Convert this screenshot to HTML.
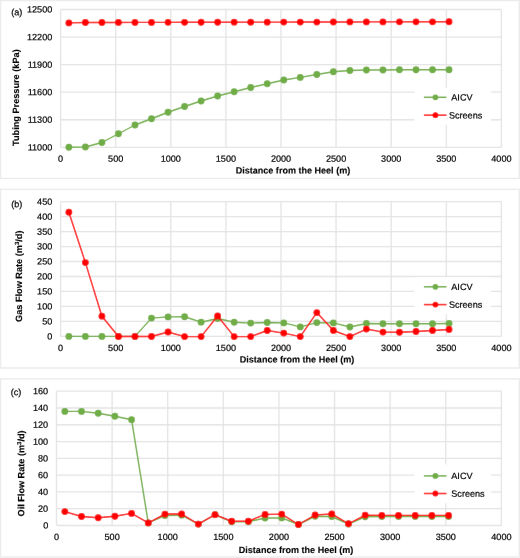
<!DOCTYPE html>
<html lang="en">
<head>
<meta charset="utf-8">
<title>Tubing pressure, gas and oil flow rate profiles</title>
<style>
html,body{margin:0;padding:0;background:#fff}
svg{display:block}
.t{font-family:"Liberation Sans",Arial,sans-serif;font-size:9.1px;fill:#000;stroke:#000;stroke-width:0.2px}
.b{font-family:"Liberation Sans",Arial,sans-serif;font-size:9.1px;font-weight:bold;fill:#000;stroke:#000;stroke-width:0.12px}
</style>
</head>
<body>
<svg width="520" height="558" viewBox="0 0 520 558">
<defs><filter id="soft" x="0" y="0" width="520" height="558" filterUnits="userSpaceOnUse"><feConvolveMatrix order="3" kernelMatrix="0.0028 0.0470 0.0028 0.0470 0.8008 0.0470 0.0028 0.0470 0.0028" divisor="1" edgeMode="none" preserveAlpha="false"/></filter><filter id="soft2" x="0" y="0" width="520" height="558" filterUnits="userSpaceOnUse"><feConvolveMatrix order="3" kernelMatrix="0.0003 0.0158 0.0003 0.0158 0.9358 0.0158 0.0003 0.0158 0.0003" divisor="1" edgeMode="none" preserveAlpha="false"/></filter></defs>
<rect width="520" height="558" fill="#fff"/>
<g filter="url(#soft)">
<rect x="0.6" y="0.6" width="518.7" height="177.9" fill="#fff" stroke="#e9e9e9" stroke-width="1.3"/>
<path d="M60.6 9.5H501.4M60.6 37.06H501.4M60.6 64.62H501.4M60.6 92.18H501.4M60.6 119.74H501.4M60.6 147.3H501.4M60.6 9.5V147.3M115.7 9.5V147.3M170.8 9.5V147.3M225.9 9.5V147.3M281 9.5V147.3M336.1 9.5V147.3M391.2 9.5V147.3M446.3 9.5V147.3M501.4 9.5V147.3" fill="none" stroke="#e3e3e3" stroke-width="1.3"/>
<rect x="414.4" y="88.1" width="76.6" height="36.6" fill="#fff"/>
<polyline points="68.86,147.25 85.39,147 101.92,142.5 118.45,133.75 134.98,125 151.51,118.75 168.04,112.25 184.57,106.5 201.1,101 217.63,96 234.16,91.75 250.69,87.5 267.22,83.75 283.75,80 300.28,77.4 316.81,74.5 333.35,71.75 349.88,70.5 366.4,70 382.93,70 399.47,69.75 416,69.75 432.52,69.75 449.05,69.75" fill="none" stroke="#70ad47" stroke-width="1.4" stroke-linejoin="round"/>
<g fill="#70ad47"><circle cx="68.86" cy="147.25" r="3.4"/><circle cx="85.39" cy="147" r="3.4"/><circle cx="101.92" cy="142.5" r="3.4"/><circle cx="118.45" cy="133.75" r="3.4"/><circle cx="134.98" cy="125" r="3.4"/><circle cx="151.51" cy="118.75" r="3.4"/><circle cx="168.04" cy="112.25" r="3.4"/><circle cx="184.57" cy="106.5" r="3.4"/><circle cx="201.1" cy="101" r="3.4"/><circle cx="217.63" cy="96" r="3.4"/><circle cx="234.16" cy="91.75" r="3.4"/><circle cx="250.69" cy="87.5" r="3.4"/><circle cx="267.22" cy="83.75" r="3.4"/><circle cx="283.75" cy="80" r="3.4"/><circle cx="300.28" cy="77.4" r="3.4"/><circle cx="316.81" cy="74.5" r="3.4"/><circle cx="333.35" cy="71.75" r="3.4"/><circle cx="349.88" cy="70.5" r="3.4"/><circle cx="366.4" cy="70" r="3.4"/><circle cx="382.93" cy="70" r="3.4"/><circle cx="399.47" cy="69.75" r="3.4"/><circle cx="416" cy="69.75" r="3.4"/><circle cx="432.52" cy="69.75" r="3.4"/><circle cx="449.05" cy="69.75" r="3.4"/></g>
<polyline points="68.86,22.9 85.39,22.52 101.92,22.48 118.45,22.45 134.98,22.41 151.51,22.38 168.04,22.34 184.57,22.3 201.1,22.27 217.63,22.23 234.16,22.2 250.69,22.16 267.22,22.13 283.75,22.09 300.28,22.06 316.81,22.03 333.35,21.99 349.88,21.96 366.4,21.92 382.93,21.89 399.47,21.85 416,21.82 432.52,21.78 449.05,21.75" fill="none" stroke="#ff0000" stroke-width="1.4" stroke-linejoin="round"/>
<g fill="#ff0000"><circle cx="68.86" cy="22.9" r="3.4"/><circle cx="85.39" cy="22.52" r="3.4"/><circle cx="101.92" cy="22.48" r="3.4"/><circle cx="118.45" cy="22.45" r="3.4"/><circle cx="134.98" cy="22.41" r="3.4"/><circle cx="151.51" cy="22.38" r="3.4"/><circle cx="168.04" cy="22.34" r="3.4"/><circle cx="184.57" cy="22.3" r="3.4"/><circle cx="201.1" cy="22.27" r="3.4"/><circle cx="217.63" cy="22.23" r="3.4"/><circle cx="234.16" cy="22.2" r="3.4"/><circle cx="250.69" cy="22.16" r="3.4"/><circle cx="267.22" cy="22.13" r="3.4"/><circle cx="283.75" cy="22.09" r="3.4"/><circle cx="300.28" cy="22.06" r="3.4"/><circle cx="316.81" cy="22.03" r="3.4"/><circle cx="333.35" cy="21.99" r="3.4"/><circle cx="349.88" cy="21.96" r="3.4"/><circle cx="366.4" cy="21.92" r="3.4"/><circle cx="382.93" cy="21.89" r="3.4"/><circle cx="399.47" cy="21.85" r="3.4"/><circle cx="416" cy="21.82" r="3.4"/><circle cx="432.52" cy="21.78" r="3.4"/><circle cx="449.05" cy="21.75" r="3.4"/></g>
<path d="M423.9 97.3H446.5" stroke="#70ad47" stroke-width="1.5"/><circle cx="435.4" cy="97.3" r="2.9" fill="#70ad47"/>
<path d="M423.9 115.2H446.5" stroke="#ff0000" stroke-width="1.5"/><circle cx="435.4" cy="115.2" r="2.9" fill="#ff0000"/>
<rect x="0.6" y="189.3" width="518.7" height="178.7" fill="#fff" stroke="#e9e9e9" stroke-width="1.3"/>
<path d="M60.6 201.6H501.4M60.6 216.58H501.4M60.6 231.56H501.4M60.6 246.53H501.4M60.6 261.51H501.4M60.6 276.49H501.4M60.6 291.47H501.4M60.6 306.44H501.4M60.6 321.42H501.4M60.6 336.4H501.4M60.6 201.6V336.4M115.7 201.6V336.4M170.8 201.6V336.4M225.9 201.6V336.4M281 201.6V336.4M336.1 201.6V336.4M391.2 201.6V336.4M446.3 201.6V336.4M501.4 201.6V336.4" fill="none" stroke="#e3e3e3" stroke-width="1.3"/>
<rect x="414.4" y="277.2" width="76.6" height="36.9" fill="#fff"/>
<polyline points="68.86,336.4 85.39,336.4 101.92,336.4 118.45,336.4 134.98,336.4 151.51,318.1 168.04,316.9 184.57,316.75 201.1,322.2 217.63,318.5 234.16,322.25 250.69,323.1 267.22,322.5 283.75,322.9 300.28,326.9 316.81,322.6 333.35,322.9 349.88,327 366.4,323.5 382.93,323.75 399.47,323.75 416,323.75 432.52,323.75 449.05,323.5" fill="none" stroke="#70ad47" stroke-width="1.4" stroke-linejoin="round"/>
<g fill="#70ad47"><circle cx="68.86" cy="336.4" r="3.4"/><circle cx="85.39" cy="336.4" r="3.4"/><circle cx="101.92" cy="336.4" r="3.4"/><circle cx="118.45" cy="336.4" r="3.4"/><circle cx="134.98" cy="336.4" r="3.4"/><circle cx="151.51" cy="318.1" r="3.4"/><circle cx="168.04" cy="316.9" r="3.4"/><circle cx="184.57" cy="316.75" r="3.4"/><circle cx="201.1" cy="322.2" r="3.4"/><circle cx="217.63" cy="318.5" r="3.4"/><circle cx="234.16" cy="322.25" r="3.4"/><circle cx="250.69" cy="323.1" r="3.4"/><circle cx="267.22" cy="322.5" r="3.4"/><circle cx="283.75" cy="322.9" r="3.4"/><circle cx="300.28" cy="326.9" r="3.4"/><circle cx="316.81" cy="322.6" r="3.4"/><circle cx="333.35" cy="322.9" r="3.4"/><circle cx="349.88" cy="327" r="3.4"/><circle cx="366.4" cy="323.5" r="3.4"/><circle cx="382.93" cy="323.75" r="3.4"/><circle cx="399.47" cy="323.75" r="3.4"/><circle cx="416" cy="323.75" r="3.4"/><circle cx="432.52" cy="323.75" r="3.4"/><circle cx="449.05" cy="323.5" r="3.4"/></g>
<polyline points="68.86,212.2 85.39,262.6 101.92,316.2 118.45,336.5 134.98,336.5 151.51,336.5 168.04,332 184.57,336.6 201.1,336.6 217.63,316 234.16,336.6 250.69,336.6 267.22,330.5 283.75,333.1 300.28,336.6 316.81,312.6 333.35,330.5 349.88,336.6 366.4,329.05 382.93,332.1 399.47,332.25 416,331.5 432.52,330.5 449.05,329.5" fill="none" stroke="#ff0000" stroke-width="1.4" stroke-linejoin="round"/>
<g fill="#ff0000"><circle cx="68.86" cy="212.2" r="3.4"/><circle cx="85.39" cy="262.6" r="3.4"/><circle cx="101.92" cy="316.2" r="3.4"/><circle cx="118.45" cy="336.5" r="3.4"/><circle cx="134.98" cy="336.5" r="3.4"/><circle cx="151.51" cy="336.5" r="3.4"/><circle cx="168.04" cy="332" r="3.4"/><circle cx="184.57" cy="336.6" r="3.4"/><circle cx="201.1" cy="336.6" r="3.4"/><circle cx="217.63" cy="316" r="3.4"/><circle cx="234.16" cy="336.6" r="3.4"/><circle cx="250.69" cy="336.6" r="3.4"/><circle cx="267.22" cy="330.5" r="3.4"/><circle cx="283.75" cy="333.1" r="3.4"/><circle cx="300.28" cy="336.6" r="3.4"/><circle cx="316.81" cy="312.6" r="3.4"/><circle cx="333.35" cy="330.5" r="3.4"/><circle cx="349.88" cy="336.6" r="3.4"/><circle cx="366.4" cy="329.05" r="3.4"/><circle cx="382.93" cy="332.1" r="3.4"/><circle cx="399.47" cy="332.25" r="3.4"/><circle cx="416" cy="331.5" r="3.4"/><circle cx="432.52" cy="330.5" r="3.4"/><circle cx="449.05" cy="329.5" r="3.4"/></g>
<path d="M423.9 286.8H446.5" stroke="#70ad47" stroke-width="1.5"/><circle cx="435.4" cy="286.8" r="2.9" fill="#70ad47"/>
<path d="M423.9 304.6H446.5" stroke="#ff0000" stroke-width="1.5"/><circle cx="435.4" cy="304.6" r="2.9" fill="#ff0000"/>
<rect x="0.6" y="378.9" width="518.7" height="178.1" fill="#fff" stroke="#e9e9e9" stroke-width="1.3"/>
<path d="M56.5 391.2H501.4M56.5 407.99H501.4M56.5 424.77H501.4M56.5 441.56H501.4M56.5 458.35H501.4M56.5 475.14H501.4M56.5 491.93H501.4M56.5 508.71H501.4M56.5 525.5H501.4M56.5 391.2V525.5M112.11 391.2V525.5M167.72 391.2V525.5M223.34 391.2V525.5M278.95 391.2V525.5M334.56 391.2V525.5M390.17 391.2V525.5M445.79 391.2V525.5M501.4 391.2V525.5" fill="none" stroke="#e3e3e3" stroke-width="1.3"/>
<rect x="414.4" y="464.5" width="76.6" height="38.7" fill="#fff"/>
<polyline points="64.84,411.4 81.53,411.4 98.21,413.25 114.89,416.25 131.58,419.7 148.26,522.9 164.94,515.6 181.63,515.2 198.31,524.1 215,514.75 231.68,521.8 248.36,521.8 265.05,518 281.73,517.9 298.41,524.5 315.1,516.25 331.78,516.5 348.47,524 365.15,516.8 381.83,516.6 398.52,516.6 415.2,516.6 431.88,516.6 448.57,516.6" fill="none" stroke="#70ad47" stroke-width="1.4" stroke-linejoin="round"/>
<g fill="#70ad47"><circle cx="64.84" cy="411.4" r="3.4"/><circle cx="81.53" cy="411.4" r="3.4"/><circle cx="98.21" cy="413.25" r="3.4"/><circle cx="114.89" cy="416.25" r="3.4"/><circle cx="131.58" cy="419.7" r="3.4"/><circle cx="148.26" cy="522.9" r="3.4"/><circle cx="164.94" cy="515.6" r="3.4"/><circle cx="181.63" cy="515.2" r="3.4"/><circle cx="198.31" cy="524.1" r="3.4"/><circle cx="215" cy="514.75" r="3.4"/><circle cx="231.68" cy="521.8" r="3.4"/><circle cx="248.36" cy="521.8" r="3.4"/><circle cx="265.05" cy="518" r="3.4"/><circle cx="281.73" cy="517.9" r="3.4"/><circle cx="298.41" cy="524.5" r="3.4"/><circle cx="315.1" cy="516.25" r="3.4"/><circle cx="331.78" cy="516.5" r="3.4"/><circle cx="348.47" cy="524" r="3.4"/><circle cx="365.15" cy="516.8" r="3.4"/><circle cx="381.83" cy="516.6" r="3.4"/><circle cx="398.52" cy="516.6" r="3.4"/><circle cx="415.2" cy="516.6" r="3.4"/><circle cx="431.88" cy="516.6" r="3.4"/><circle cx="448.57" cy="516.6" r="3.4"/></g>
<polyline points="64.84,511.6 81.53,516.5 98.21,517.75 114.89,516.25 131.58,513.4 148.26,522.9 164.94,514.05 181.63,514 198.31,524.1 215,514.7 231.68,521.25 248.36,521.25 265.05,514.45 281.73,514.1 298.41,524.5 315.1,515 331.78,513.9 348.47,523.75 365.15,515.1 381.83,515.4 398.52,515.4 415.2,515.4 431.88,515.4 448.57,515.4" fill="none" stroke="#ff0000" stroke-width="1.4" stroke-linejoin="round"/>
<g fill="#ff0000"><circle cx="64.84" cy="511.6" r="3.4"/><circle cx="81.53" cy="516.5" r="3.4"/><circle cx="98.21" cy="517.75" r="3.4"/><circle cx="114.89" cy="516.25" r="3.4"/><circle cx="131.58" cy="513.4" r="3.4"/><circle cx="148.26" cy="522.9" r="3.4"/><circle cx="164.94" cy="514.05" r="3.4"/><circle cx="181.63" cy="514" r="3.4"/><circle cx="198.31" cy="524.1" r="3.4"/><circle cx="215" cy="514.7" r="3.4"/><circle cx="231.68" cy="521.25" r="3.4"/><circle cx="248.36" cy="521.25" r="3.4"/><circle cx="265.05" cy="514.45" r="3.4"/><circle cx="281.73" cy="514.1" r="3.4"/><circle cx="298.41" cy="524.5" r="3.4"/><circle cx="315.1" cy="515" r="3.4"/><circle cx="331.78" cy="513.9" r="3.4"/><circle cx="348.47" cy="523.75" r="3.4"/><circle cx="365.15" cy="515.1" r="3.4"/><circle cx="381.83" cy="515.4" r="3.4"/><circle cx="398.52" cy="515.4" r="3.4"/><circle cx="415.2" cy="515.4" r="3.4"/><circle cx="431.88" cy="515.4" r="3.4"/><circle cx="448.57" cy="515.4" r="3.4"/></g>
<path d="M423.9 475.9H446.5" stroke="#70ad47" stroke-width="1.5"/><circle cx="435.4" cy="475.9" r="2.9" fill="#70ad47"/>
<path d="M423.9 493.5H446.5" stroke="#ff0000" stroke-width="1.5"/><circle cx="435.4" cy="493.5" r="2.9" fill="#ff0000"/>
</g>
<g filter="url(#soft2)">
<text x="11.2" y="15.3" transform="rotate(0.03 11.2 15.3)" class="t">(a)</text>
<text x="52.3" y="12.6" transform="rotate(0.03 52.3 12.6)" class="t" text-anchor="end">12500</text>
<text x="52.3" y="40.16" transform="rotate(0.03 52.3 40.16)" class="t" text-anchor="end">12200</text>
<text x="52.3" y="67.72" transform="rotate(0.03 52.3 67.72)" class="t" text-anchor="end">11900</text>
<text x="52.3" y="95.28" transform="rotate(0.03 52.3 95.28)" class="t" text-anchor="end">11600</text>
<text x="52.3" y="122.84" transform="rotate(0.03 52.3 122.84)" class="t" text-anchor="end">11300</text>
<text x="52.3" y="150.4" transform="rotate(0.03 52.3 150.4)" class="t" text-anchor="end">11000</text>
<text x="60.6" y="161.8" transform="rotate(0.03 60.6 161.8)" class="t" text-anchor="middle">0</text>
<text x="115.7" y="161.8" transform="rotate(0.03 115.7 161.8)" class="t" text-anchor="middle">500</text>
<text x="170.8" y="161.8" transform="rotate(0.03 170.8 161.8)" class="t" text-anchor="middle">1000</text>
<text x="225.9" y="161.8" transform="rotate(0.03 225.9 161.8)" class="t" text-anchor="middle">1500</text>
<text x="281" y="161.8" transform="rotate(0.03 281 161.8)" class="t" text-anchor="middle">2000</text>
<text x="336.1" y="161.8" transform="rotate(0.03 336.1 161.8)" class="t" text-anchor="middle">2500</text>
<text x="391.2" y="161.8" transform="rotate(0.03 391.2 161.8)" class="t" text-anchor="middle">3000</text>
<text x="446.3" y="161.8" transform="rotate(0.03 446.3 161.8)" class="t" text-anchor="middle">3500</text>
<text x="501.4" y="161.8" transform="rotate(0.03 501.4 161.8)" class="t" text-anchor="middle">4000</text>
<text x="235.7" y="173.4" transform="rotate(0.03 235.7 173.4)" class="b" textLength="114.5" lengthAdjust="spacingAndGlyphs">Distance from the Heel (m)</text>
<text transform="translate(19 146) rotate(-89.97)" class="b" textLength="96.7" lengthAdjust="spacingAndGlyphs">Tubing Pressure (kPa)</text>
<text x="451.3" y="100.5" transform="rotate(0.03 451.3 100.5)" class="t">AICV</text>
<text x="448.9" y="118.4" transform="rotate(0.03 448.9 118.4)" class="t">Screens</text>
<text x="11.2" y="207.3" transform="rotate(0.03 11.2 207.3)" class="t">(b)</text>
<text x="52.3" y="204.7" transform="rotate(0.03 52.3 204.7)" class="t" text-anchor="end">450</text>
<text x="52.3" y="219.68" transform="rotate(0.03 52.3 219.68)" class="t" text-anchor="end">400</text>
<text x="52.3" y="234.66" transform="rotate(0.03 52.3 234.66)" class="t" text-anchor="end">350</text>
<text x="52.3" y="249.63" transform="rotate(0.03 52.3 249.63)" class="t" text-anchor="end">300</text>
<text x="52.3" y="264.61" transform="rotate(0.03 52.3 264.61)" class="t" text-anchor="end">250</text>
<text x="52.3" y="279.59" transform="rotate(0.03 52.3 279.59)" class="t" text-anchor="end">200</text>
<text x="52.3" y="294.57" transform="rotate(0.03 52.3 294.57)" class="t" text-anchor="end">150</text>
<text x="52.3" y="309.54" transform="rotate(0.03 52.3 309.54)" class="t" text-anchor="end">100</text>
<text x="52.3" y="324.52" transform="rotate(0.03 52.3 324.52)" class="t" text-anchor="end">50</text>
<text x="52.3" y="339.5" transform="rotate(0.03 52.3 339.5)" class="t" text-anchor="end">0</text>
<text x="60.6" y="350.9" transform="rotate(0.03 60.6 350.9)" class="t" text-anchor="middle">0</text>
<text x="115.7" y="350.9" transform="rotate(0.03 115.7 350.9)" class="t" text-anchor="middle">500</text>
<text x="170.8" y="350.9" transform="rotate(0.03 170.8 350.9)" class="t" text-anchor="middle">1000</text>
<text x="225.9" y="350.9" transform="rotate(0.03 225.9 350.9)" class="t" text-anchor="middle">1500</text>
<text x="281" y="350.9" transform="rotate(0.03 281 350.9)" class="t" text-anchor="middle">2000</text>
<text x="336.1" y="350.9" transform="rotate(0.03 336.1 350.9)" class="t" text-anchor="middle">2500</text>
<text x="391.2" y="350.9" transform="rotate(0.03 391.2 350.9)" class="t" text-anchor="middle">3000</text>
<text x="446.3" y="350.9" transform="rotate(0.03 446.3 350.9)" class="t" text-anchor="middle">3500</text>
<text x="501.4" y="350.9" transform="rotate(0.03 501.4 350.9)" class="t" text-anchor="middle">4000</text>
<text x="239.8" y="362.5" transform="rotate(0.03 239.8 362.5)" class="b" textLength="114.5" lengthAdjust="spacingAndGlyphs">Distance from the Heel (m)</text>
<text transform="translate(22 321.9) rotate(-89.97)" class="b" textLength="91.4" lengthAdjust="spacingAndGlyphs">Gas Flow Rate (m<tspan dy="-3" font-size="6">3</tspan><tspan dy="3">/d)</tspan></text>
<text x="451.3" y="290" transform="rotate(0.03 451.3 290)" class="t">AICV</text>
<text x="448.9" y="307.8" transform="rotate(0.03 448.9 307.8)" class="t">Screens</text>
<text x="10.7" y="395.3" transform="rotate(0.03 10.7 395.3)" class="t">(c)</text>
<text x="48.2" y="394.3" transform="rotate(0.03 48.2 394.3)" class="t" text-anchor="end">160</text>
<text x="48.2" y="411.09" transform="rotate(0.03 48.2 411.09)" class="t" text-anchor="end">140</text>
<text x="48.2" y="427.88" transform="rotate(0.03 48.2 427.88)" class="t" text-anchor="end">120</text>
<text x="48.2" y="444.66" transform="rotate(0.03 48.2 444.66)" class="t" text-anchor="end">100</text>
<text x="48.2" y="461.45" transform="rotate(0.03 48.2 461.45)" class="t" text-anchor="end">80</text>
<text x="48.2" y="478.24" transform="rotate(0.03 48.2 478.24)" class="t" text-anchor="end">60</text>
<text x="48.2" y="495.03" transform="rotate(0.03 48.2 495.03)" class="t" text-anchor="end">40</text>
<text x="48.2" y="511.81" transform="rotate(0.03 48.2 511.81)" class="t" text-anchor="end">20</text>
<text x="48.2" y="528.6" transform="rotate(0.03 48.2 528.6)" class="t" text-anchor="end">0</text>
<text x="56.5" y="540" transform="rotate(0.03 56.5 540)" class="t" text-anchor="middle">0</text>
<text x="112.11" y="540" transform="rotate(0.03 112.11 540)" class="t" text-anchor="middle">500</text>
<text x="167.72" y="540" transform="rotate(0.03 167.72 540)" class="t" text-anchor="middle">1000</text>
<text x="223.34" y="540" transform="rotate(0.03 223.34 540)" class="t" text-anchor="middle">1500</text>
<text x="278.95" y="540" transform="rotate(0.03 278.95 540)" class="t" text-anchor="middle">2000</text>
<text x="334.56" y="540" transform="rotate(0.03 334.56 540)" class="t" text-anchor="middle">2500</text>
<text x="390.17" y="540" transform="rotate(0.03 390.17 540)" class="t" text-anchor="middle">3000</text>
<text x="445.79" y="540" transform="rotate(0.03 445.79 540)" class="t" text-anchor="middle">3500</text>
<text x="501.4" y="540" transform="rotate(0.03 501.4 540)" class="t" text-anchor="middle">4000</text>
<text x="238.8" y="553" transform="rotate(0.03 238.8 553)" class="b" textLength="114.5" lengthAdjust="spacingAndGlyphs">Distance from the Heel (m)</text>
<text transform="translate(24.3 516.4) rotate(-89.97)" class="b" textLength="86" lengthAdjust="spacingAndGlyphs">Oil Flow Rate (m<tspan dy="-3" font-size="6">3</tspan><tspan dy="3">/d)</tspan></text>
<text x="451.3" y="479.1" transform="rotate(0.03 451.3 479.1)" class="t">AICV</text>
<text x="451.3" y="496.7" transform="rotate(0.03 451.3 496.7)" class="t">Screens</text>
</g>
</svg>
</body>
</html>
